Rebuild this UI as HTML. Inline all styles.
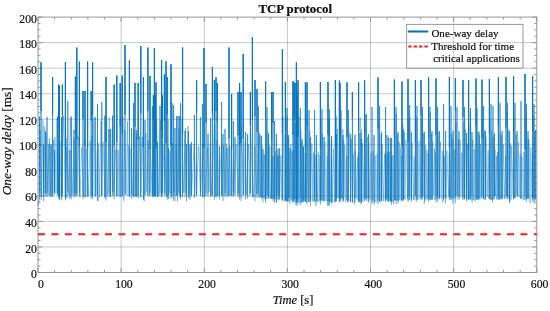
<!DOCTYPE html>
<html><head><meta charset="utf-8"><style>
html,body{margin:0;padding:0;background:#fff;width:550px;height:311px;overflow:hidden}
svg{display:block}
text{font-family:"Liberation Serif",serif;fill:#111;stroke:#111;stroke-width:0.2px}
</style></head><body>
<svg width="550" height="311" viewBox="0 0 550 311">
<g stroke="#000" stroke-opacity="0.22" stroke-width="1" fill="none"><line x1="121.1" y1="17.1" x2="121.1" y2="272.5"/><line x1="204.3" y1="17.1" x2="204.3" y2="272.5"/><line x1="287.4" y1="17.1" x2="287.4" y2="272.5"/><line x1="370.5" y1="17.1" x2="370.5" y2="272.5"/><line x1="453.7" y1="17.1" x2="453.7" y2="272.5"/><line x1="38.0" y1="246.96" x2="536.8" y2="246.96"/><line x1="38.0" y1="221.42" x2="536.8" y2="221.42"/><line x1="38.0" y1="195.88" x2="536.8" y2="195.88"/><line x1="38.0" y1="170.34" x2="536.8" y2="170.34"/><line x1="38.0" y1="144.80" x2="536.8" y2="144.80"/><line x1="38.0" y1="119.26" x2="536.8" y2="119.26"/><line x1="38.0" y1="93.72" x2="536.8" y2="93.72"/><line x1="38.0" y1="68.18" x2="536.8" y2="68.18"/><line x1="38.0" y1="42.64" x2="536.8" y2="42.64"/></g>
<g stroke="#969696" stroke-width="1" fill="none"><rect x="38.0" y="17.1" width="498.79999999999995" height="255.4"/><path d="M38.00,272.5v-4.5M38.00,17.1v4.5M54.63,272.5v-2.5M54.63,17.1v2.5M71.25,272.5v-2.5M71.25,17.1v2.5M87.88,272.5v-2.5M87.88,17.1v2.5M104.51,272.5v-2.5M104.51,17.1v2.5M121.13,272.5v-4.5M121.13,17.1v4.5M137.76,272.5v-2.5M137.76,17.1v2.5M154.39,272.5v-2.5M154.39,17.1v2.5M171.01,272.5v-2.5M171.01,17.1v2.5M187.64,272.5v-2.5M187.64,17.1v2.5M204.27,272.5v-4.5M204.27,17.1v4.5M220.89,272.5v-2.5M220.89,17.1v2.5M237.52,272.5v-2.5M237.52,17.1v2.5M254.15,272.5v-2.5M254.15,17.1v2.5M270.77,272.5v-2.5M270.77,17.1v2.5M287.40,272.5v-4.5M287.40,17.1v4.5M304.03,272.5v-2.5M304.03,17.1v2.5M320.65,272.5v-2.5M320.65,17.1v2.5M337.28,272.5v-2.5M337.28,17.1v2.5M353.91,272.5v-2.5M353.91,17.1v2.5M370.53,272.5v-4.5M370.53,17.1v4.5M387.16,272.5v-2.5M387.16,17.1v2.5M403.79,272.5v-2.5M403.79,17.1v2.5M420.41,272.5v-2.5M420.41,17.1v2.5M437.04,272.5v-2.5M437.04,17.1v2.5M453.67,272.5v-4.5M453.67,17.1v4.5M470.29,272.5v-2.5M470.29,17.1v2.5M486.92,272.5v-2.5M486.92,17.1v2.5M503.55,272.5v-2.5M503.55,17.1v2.5M520.17,272.5v-2.5M520.17,17.1v2.5M536.80,272.5v-4.5M536.80,17.1v4.5M38.0,272.50h4.5M536.8,272.50h-4.5M38.0,266.12h2.5M536.8,266.12h-2.5M38.0,259.73h2.5M536.8,259.73h-2.5M38.0,253.34h2.5M536.8,253.34h-2.5M38.0,246.96h4.5M536.8,246.96h-4.5M38.0,240.57h2.5M536.8,240.57h-2.5M38.0,234.19h2.5M536.8,234.19h-2.5M38.0,227.81h2.5M536.8,227.81h-2.5M38.0,221.42h4.5M536.8,221.42h-4.5M38.0,215.03h2.5M536.8,215.03h-2.5M38.0,208.65h2.5M536.8,208.65h-2.5M38.0,202.26h2.5M536.8,202.26h-2.5M38.0,195.88h4.5M536.8,195.88h-4.5M38.0,189.50h2.5M536.8,189.50h-2.5M38.0,183.11h2.5M536.8,183.11h-2.5M38.0,176.72h2.5M536.8,176.72h-2.5M38.0,170.34h4.5M536.8,170.34h-4.5M38.0,163.95h2.5M536.8,163.95h-2.5M38.0,157.57h2.5M536.8,157.57h-2.5M38.0,151.19h2.5M536.8,151.19h-2.5M38.0,144.80h4.5M536.8,144.80h-4.5M38.0,138.41h2.5M536.8,138.41h-2.5M38.0,132.03h2.5M536.8,132.03h-2.5M38.0,125.65h2.5M536.8,125.65h-2.5M38.0,119.26h4.5M536.8,119.26h-4.5M38.0,112.88h2.5M536.8,112.88h-2.5M38.0,106.49h2.5M536.8,106.49h-2.5M38.0,100.10h2.5M536.8,100.10h-2.5M38.0,93.72h4.5M536.8,93.72h-4.5M38.0,87.34h2.5M536.8,87.34h-2.5M38.0,80.95h2.5M536.8,80.95h-2.5M38.0,74.56h2.5M536.8,74.56h-2.5M38.0,68.18h4.5M536.8,68.18h-4.5M38.0,61.79h2.5M536.8,61.79h-2.5M38.0,55.41h2.5M536.8,55.41h-2.5M38.0,49.03h2.5M536.8,49.03h-2.5M38.0,42.64h4.5M536.8,42.64h-4.5M38.0,36.25h2.5M536.8,36.25h-2.5M38.0,29.87h2.5M536.8,29.87h-2.5M38.0,23.49h2.5M536.8,23.49h-2.5M38.0,17.10h4.5M536.8,17.10h-4.5"/></g>
<path d="M39.84,196.1L40.14,129.8L41.76,197.0L42.90,120.1L43.74,201.2L44.19,126.3L45.19,193.9L46.02,133.0L47.16,192.8L49.36,138.5L50.32,195.8L50.99,145.8L51.87,196.5L53.55,139.5L54.37,193.1L54.96,136.9L56.03,192.9L56.96,118.1L57.97,195.9L60.01,140.9L61.14,196.5L63.56,115.7L65.33,197.4L66.81,147.9L68.93,195.3L70.26,117.7L72.77,195.7L73.93,138.1L74.67,195.9L75.93,130.3L76.88,196.2L78.06,136.7L80.03,197.1L81.57,147.7L83.44,196.1L84.96,139.5L85.88,196.7L86.61,148.9L88.36,195.9L90.13,140.8L91.17,195.6L91.90,136.4L92.69,195.7L93.87,117.8L95.99,195.6L97.25,149.7L98.06,200.8L98.72,143.2L99.68,197.3L101.00,121.1L101.70,195.8L102.98,142.1L105.05,198.5L106.42,117.5L107.38,196.0L109.20,117.5L110.51,196.6L112.25,127.3L113.85,196.2L115.70,149.3L116.93,196.0L118.21,149.9L118.96,196.1L120.24,118.6L122.04,196.2L122.99,117.1L123.74,200.9L124.73,129.9L126.05,194.8L127.51,121.3L128.04,195.8L128.86,145.5L129.92,196.5L130.90,148.6L132.65,195.9L134.39,128.8L135.90,196.6L136.79,133.7L137.94,195.9L139.65,136.3L140.63,197.2L142.30,137.1L144.20,201.2L145.90,133.2L146.74,192.3L148.23,140.5L149.37,195.7L150.07,147.4L152.31,195.5L153.57,144.7L155.44,195.6L156.62,118.7L158.41,196.2L160.34,120.0L161.92,196.4L164.09,144.2L166.91,197.2L168.12,118.8L169.21,193.2L169.99,150.8L171.32,196.6L172.49,143.3L174.03,192.6L176.13,143.9L177.43,201.2L179.03,128.2L180.50,196.2L181.95,118.9L183.23,192.8L185.52,128.5L186.50,196.1L187.93,126.1L189.44,194.0L190.22,146.3L191.62,193.7L194.21,144.2L196.19,195.9L198.66,146.6L200.57,192.6L203.17,143.5L204.71,197.2L207.79,147.5L209.07,192.3L210.21,143.7L211.70,195.2L214.56,124.2L215.80,196.1L217.16,139.8L218.96,195.7L221.51,144.8L222.16,195.7L223.61,145.4L225.05,193.5L226.43,143.5L228.40,196.0L229.50,146.0L230.42,195.6L231.18,147.9L233.14,196.5L236.14,144.4L238.12,196.0L240.97,125.6L243.72,194.6L245.12,140.5L246.25,194.7L248.52,144.2L249.76,196.4L250.41,127.8L253.40,197.5L254.78,146.2L256.63,194.6L259.46,132.9L260.42,196.0L261.83,145.3L262.76,198.3L264.16,154.0L264.57,198.5L265.02,155.2L265.66,202.8L266.14,119.1L267.08,194.6L268.08,131.7L269.00,197.6L269.60,145.6L270.48,198.8L271.45,146.4L271.88,198.7L272.71,156.0L273.69,199.0L274.34,155.5L275.23,198.8L275.76,151.4L276.47,202.9L277.48,155.7L278.22,200.3L278.60,155.5L279.46,198.4L280.97,155.6L281.96,199.5L283.18,117.1L284.11,201.1L285.06,134.0L285.63,201.2L285.97,118.9L286.50,201.3L287.25,115.7L287.75,201.2L288.79,137.3L289.59,197.8L290.92,144.0L291.33,199.6L291.84,150.9L292.37,201.4L292.89,150.5L293.94,199.0L295.34,123.0L295.87,205.3L296.32,115.5L296.90,202.6L297.68,114.2L298.18,201.4L299.10,116.5L299.72,202.5L300.91,130.5L301.62,202.7L302.06,141.3L302.61,202.0L303.10,147.9L304.41,201.3L305.13,152.7L305.50,201.9L306.09,118.2L306.74,202.4L307.55,121.2L308.78,202.1L309.69,130.7L310.51,201.0L311.86,143.4L312.88,201.3L313.41,152.6L314.03,201.6L315.07,154.9L315.96,206.1L316.60,154.9L317.36,202.2L318.21,151.7L319.14,201.3L319.93,154.9L320.39,204.3L320.88,120.0L321.86,200.2L322.43,134.2L323.96,201.8L324.82,141.6L326.07,201.3L327.15,155.5L327.92,206.0L328.42,120.2L328.86,201.3L329.46,117.7L330.62,201.9L331.40,140.2L332.32,202.3L333.55,148.7L334.33,202.6L335.61,120.9L336.00,197.7L336.61,116.1L337.19,198.2L337.45,129.0L338.88,198.2L339.58,117.3L339.99,201.7L340.56,117.7L341.69,198.5L342.87,129.3L343.37,200.4L343.74,139.9L344.09,197.5L344.77,144.9L345.94,202.2L346.73,155.9L347.58,202.6L349.15,132.1L350.54,202.3L351.31,139.3L352.55,202.5L353.43,153.6L354.38,204.4L355.45,150.7L356.09,198.7L357.53,156.5L357.92,200.2L358.47,152.3L359.25,201.9L360.24,117.8L361.08,204.3L361.48,129.3L361.89,202.0L362.73,143.3L363.90,200.7L364.82,119.8L365.77,198.6L366.26,114.8L366.92,201.3L367.68,136.9L368.08,198.3L368.65,142.5L369.84,199.4L371.11,152.9L372.20,201.9L373.19,151.1L374.45,202.3L375.17,155.3L376.00,202.6L377.13,153.6L377.97,203.8L378.77,121.5L380.17,202.1L381.10,135.0L381.60,200.9L382.09,144.2L383.36,201.1L384.45,153.6L385.31,202.0L386.02,155.0L386.53,198.3L387.17,151.9L387.95,201.5L388.33,154.1L389.14,201.5L389.69,151.6L390.89,201.0L391.68,156.7L392.07,201.9L393.00,154.9L393.48,204.0L394.52,123.0L395.22,200.4L396.33,113.9L396.97,200.5L397.53,134.2L398.58,200.7L399.16,141.7L399.79,199.8L400.28,146.5L401.21,200.4L401.65,155.4L402.18,199.8L402.72,123.9L403.26,200.8L404.36,132.2L404.90,199.6L405.97,139.8L407.51,199.1L408.17,120.9L408.80,200.3L409.81,117.0L411.21,199.3L412.07,141.8L413.33,199.9L414.12,156.7L414.79,200.1L415.74,118.6L416.39,201.6L416.96,117.0L418.06,200.0L418.92,140.7L420.18,198.5L421.18,118.7L421.76,200.0L422.33,113.8L423.08,196.5L423.47,132.9L425.04,201.2L425.74,145.3L426.20,198.9L426.99,150.1L427.78,199.8L428.35,153.0L429.00,199.8L430.40,112.6L430.97,199.8L431.39,133.8L432.11,199.3L432.71,141.5L433.32,195.2L434.51,148.7L434.87,199.9L435.35,152.3L436.25,199.1L436.91,120.4L437.51,201.6L438.09,132.1L438.98,199.3L440.52,141.7L441.09,198.4L442.26,150.8L442.85,202.4L443.55,154.7L443.92,198.9L444.57,156.2L446.06,198.9L446.92,150.7L448.45,196.5L449.32,152.6L450.50,199.6L451.44,133.3L451.87,200.1L452.77,138.7L454.00,197.6L454.69,149.6L455.21,198.6L455.97,122.3L457.57,195.9L458.40,138.7L459.40,196.4L460.13,139.8L461.04,196.4L461.79,152.5L462.91,198.8L463.82,121.7L464.47,199.4L465.60,129.3L466.54,198.6L467.50,143.4L468.07,198.6L468.64,123.2L469.56,199.0L470.56,112.9L472.02,200.1L472.95,140.0L473.49,200.1L474.33,149.0L474.94,201.2L476.16,120.9L477.47,199.1L478.08,131.2L478.54,200.2L479.43,135.2L479.98,199.3L480.38,144.0L481.27,197.1L482.47,120.8L483.21,197.9L484.53,130.5L484.94,199.9L485.81,136.7L487.24,196.6L488.10,150.3L488.96,198.8L489.77,118.7L490.84,199.9L491.89,130.5L492.50,202.2L493.28,136.8L494.41,196.1L495.01,149.4L495.51,196.1L496.43,155.9L496.78,199.4L497.45,151.9L497.91,199.9L498.45,117.8L499.33,199.7L500.58,133.1L501.20,199.3L501.73,135.3L502.64,198.7L503.25,144.2L504.48,199.1L505.45,155.2L506.64,196.3L507.27,113.0L508.06,198.6L508.76,129.4L509.74,202.6L510.48,143.0L511.04,199.9L511.65,145.8L513.13,195.3L513.78,117.2L514.84,198.3L515.95,134.2L517.51,197.2L518.37,141.7L519.11,197.1L520.12,154.1L520.91,198.9L522.01,156.8L523.21,200.1L523.99,152.1L525.01,199.7L526.26,115.4L527.34,198.6L528.09,139.1L528.60,198.9L528.93,139.4L530.03,203.4L530.87,147.4L531.99,198.4L532.57,153.2L533.24,198.5L533.73,115.7L534.22,197.3L534.62,131.5L534.92,201.8" fill="none" stroke="#0072BD" stroke-width="0.38"/>
<path d="M39.44,197.3L39.50,116.5L39.56,192.9M40.94,194.6L41.00,62.4L41.06,199.9M43.54,196.9L43.60,145.0L43.66,192.7M45.34,197.0L45.40,131.0L45.46,192.9M46.94,197.0L47.00,117.0L47.06,195.7M48.94,194.8L49.00,144.0L49.06,196.9M50.94,196.1L51.00,144.0L51.06,197.0M52.54,196.9L52.60,77.0L52.66,194.2M54.34,195.3L54.40,150.0L54.46,193.0M57.44,194.7L57.50,116.5L57.56,194.1M58.54,198.8L58.60,84.6L58.66,195.6M59.34,196.9L59.40,85.6L59.46,199.5M59.44,195.9L59.50,110.0L59.56,199.7M61.44,194.9L61.50,117.0L61.56,200.5M62.34,197.4L62.40,84.6L62.46,194.6M65.34,196.2L65.40,62.0L65.46,200.3M65.94,198.4L66.00,138.0L66.06,198.8M67.74,197.3L67.80,101.0L67.86,192.4M69.94,197.4L70.00,150.0L70.06,199.2M71.24,199.2L71.30,116.5L71.36,195.7M73.94,197.4L74.00,130.0L74.06,193.1M75.34,197.3L75.40,76.6L75.46,194.1M76.74,196.0L76.80,47.6L76.86,193.1M79.34,196.5L79.40,61.6L79.46,193.2M82.94,196.9L83.00,91.0L83.06,199.0M84.94,197.2L85.00,91.0L85.06,197.3M87.54,195.6L87.60,61.6L87.66,197.4M91.14,198.5L91.20,91.0L91.26,196.0M92.54,196.7L92.60,62.6L92.66,199.0M95.14,196.3L95.20,117.0L95.26,196.7M97.44,194.8L97.50,104.0L97.56,200.8M101.74,195.9L101.80,102.0L101.86,195.7M104.74,196.7L104.80,115.5L104.86,197.0M105.94,196.4L106.00,77.0L106.06,200.8M108.94,193.7L109.00,129.0L109.06,197.0M110.34,195.6L110.40,129.0L110.46,197.0M112.44,195.9L112.50,115.5L112.56,192.3M114.14,199.0L114.20,84.6L114.26,192.5M116.74,196.7L116.80,75.6L116.86,196.6M120.14,197.4L120.20,83.0L120.26,197.0M122.14,196.1L122.20,75.6L122.26,195.9M124.94,193.7L125.00,45.0L125.06,195.6M129.34,196.2L129.40,60.4L129.46,197.0M131.54,194.1L131.60,128.0L131.66,198.8M133.44,197.5L133.50,103.0L133.56,196.2M134.94,196.6L135.00,83.0L135.06,196.2M136.34,197.3L136.40,130.0L136.46,196.1M138.14,198.7L138.20,83.0L138.26,196.6M140.74,193.0L140.80,46.0L140.86,197.5M143.34,198.9L143.40,77.0L143.46,199.6M144.94,195.7L145.00,120.0L145.06,194.6M147.84,195.2L147.90,47.6L147.96,196.8M149.94,196.0L150.00,76.0L150.06,193.0M152.34,196.6L152.40,106.0L152.46,194.8M153.34,197.3L153.40,95.0L153.46,196.8M154.34,196.3L154.40,48.0L154.46,195.8M154.94,196.6L155.00,95.0L155.06,196.2M155.94,197.4L156.00,82.4L156.06,194.4M157.54,197.2L157.60,142.0L157.66,196.7M159.94,196.5L160.00,106.0L160.06,193.2M161.54,196.2L161.60,60.0L161.66,197.3M162.34,192.5L162.40,95.0L162.46,194.2M164.34,192.5L164.40,74.4L164.46,196.1M165.94,194.5L166.00,61.4L166.06,195.7M167.14,199.9L167.20,77.0L167.26,197.2M168.54,199.1L168.60,148.0L168.66,195.6M170.94,193.7L171.00,64.4L171.06,199.0M171.94,195.9L172.00,103.0L172.06,196.8M173.54,200.6L173.60,105.0L173.66,194.7M174.94,201.2L175.00,128.0L175.06,196.3M176.54,196.1L176.60,116.0L176.66,194.9M177.94,195.7L178.00,116.0L178.06,192.5M179.34,194.2L179.40,116.0L179.46,196.5M180.54,199.3L180.60,103.0L180.66,197.1M182.54,196.4L182.60,47.6L182.66,197.2M184.94,197.2L185.00,131.0L185.06,192.4M186.34,194.7L186.40,144.0L186.46,201.2M188.34,198.3L188.40,131.0L188.46,197.1M189.94,197.0L190.00,144.0L190.06,199.9M191.34,196.1L191.40,142.0L191.46,196.2M194.34,197.5L194.40,115.0L194.46,197.2M196.54,196.0L196.60,80.0L196.66,193.8M200.34,196.1L200.40,117.0L200.46,196.4M202.34,197.5L202.40,104.0L202.46,196.4M203.94,197.2L204.00,48.0L204.06,195.6M205.94,196.2L206.00,84.0L206.06,193.7M207.94,196.9L208.00,134.0L208.06,194.4M210.54,196.8L210.60,118.0L210.66,196.7M212.34,196.7L212.40,67.0L212.46,195.1M214.34,199.9L214.40,80.0L214.46,196.6M215.94,197.3L216.00,77.4L216.06,196.9M217.34,196.5L217.40,83.0L217.46,196.1M219.34,195.7L219.40,146.0L219.46,199.4M221.54,194.5L221.60,102.0L221.66,196.5M222.94,196.4L223.00,134.0L223.06,201.2M224.94,197.0L225.00,129.0L225.06,195.6M226.94,197.3L227.00,148.0L227.06,196.2M228.94,195.9L229.00,47.6L229.06,195.7M231.54,196.5L231.60,94.0L231.66,195.7M233.34,196.6L233.40,121.0L233.46,192.4M234.94,194.4L235.00,137.0L235.06,195.8M237.94,193.0L238.00,92.0L238.06,197.2M239.54,199.6L239.60,83.0L239.66,194.7M240.94,197.4L241.00,92.0L241.06,201.0M243.14,195.2L243.20,54.0L243.26,196.3M245.54,199.5L245.60,132.0L245.66,195.9M247.54,196.2L247.60,134.0L247.66,199.0M250.34,193.3L250.40,92.0L250.46,193.3M252.34,196.6L252.40,37.0L252.46,197.0M254.94,201.3L255.00,80.0L255.06,197.1M256.94,197.7L257.00,89.0L257.06,193.7M258.34,197.5L258.40,106.0L258.46,194.2M259.94,197.0L260.00,135.0L260.06,198.5M261.54,197.8L261.60,136.0L261.66,198.1M262.94,202.2L263.00,149.0L263.06,197.7M265.54,199.4L265.60,81.4L265.66,198.9M266.94,199.1L267.00,107.0L267.06,196.0M268.54,199.0L268.60,134.0L268.66,198.0M271.54,198.5L271.60,92.0L271.66,198.6M272.94,201.3L273.00,92.0L273.06,198.8M274.54,203.0L274.60,121.0L274.66,200.3M276.34,202.4L276.40,134.0L276.46,195.8M277.94,199.9L278.00,149.0L278.06,195.9M279.54,199.6L279.60,148.0L279.66,196.0M282.34,199.7L282.40,49.0L282.46,201.1M285.34,200.6L285.40,82.0L285.46,200.3M286.94,200.9L287.00,108.0L287.06,201.6M288.34,201.9L288.40,135.0L288.46,198.5M289.94,204.0L290.00,148.0L290.06,201.1M292.94,202.4L293.00,81.0L293.06,201.4M293.94,202.5L294.00,82.4L294.06,200.0M294.94,202.2L295.00,83.0L295.06,198.9M296.34,200.1L296.40,62.4L296.46,202.5M296.94,205.9L297.00,92.0L297.06,201.6M297.94,198.4L298.00,80.4L298.06,204.3M300.34,205.1L300.40,108.0L300.46,197.6M301.94,202.3L302.00,139.0L302.06,202.0M303.54,202.3L303.60,146.0L303.66,199.8M305.34,198.8L305.40,82.4L305.46,201.9M306.94,204.5L307.00,82.4L307.06,198.8M308.94,202.0L309.00,110.0L309.06,201.7M310.54,205.9L310.60,137.0L310.66,200.9M314.54,201.6L314.60,110.0L314.66,197.5M316.34,200.9L316.40,135.0L316.46,201.7M320.34,200.7L320.40,82.0L320.46,200.7M321.94,200.8L322.00,109.0L322.06,201.3M323.94,200.1L324.00,137.0L324.06,200.9M327.94,201.1L328.00,82.0L328.06,205.7M329.34,202.0L329.40,109.0L329.46,205.5M331.54,203.7L331.60,136.0L331.66,202.6M335.34,201.5L335.40,80.0L335.46,201.9M336.34,201.2L336.40,134.0L336.46,201.2M339.34,202.6L339.40,80.6L339.46,201.1M339.94,198.7L340.00,83.0L340.06,201.2M340.94,199.0L341.00,110.0L341.06,197.8M342.94,200.8L343.00,135.0L343.06,202.2M346.94,199.8L347.00,82.4L347.06,199.9M348.34,200.9L348.40,110.0L348.46,201.7M350.54,201.1L350.60,134.0L350.66,202.0M352.34,197.8L352.40,92.0L352.46,202.1M354.94,202.5L355.00,135.0L355.06,198.7M358.54,202.5L358.60,82.4L358.66,201.0M359.94,201.3L360.00,133.0L360.06,202.6M361.54,201.3L361.60,139.0L361.66,202.7M364.54,201.2L364.60,80.0L364.66,197.7M365.94,199.6L366.00,114.0L366.06,198.9M368.54,201.3L368.60,134.0L368.66,202.6M371.94,204.3L372.00,107.0L372.06,200.0M373.94,201.8L374.00,135.0L374.06,204.8M377.94,199.6L378.00,77.6L378.06,201.1M379.54,200.9L379.60,106.0L379.66,201.5M381.54,201.2L381.60,132.0L381.66,198.8M385.54,200.0L385.60,107.0L385.66,200.2M386.94,201.4L387.00,135.0L387.06,199.0M388.54,201.7L388.60,137.0L388.66,200.0M390.34,201.7L390.40,138.0L390.46,201.4M391.54,204.9L391.60,138.0L391.66,201.5M394.34,200.5L394.40,79.6L394.46,200.4M395.94,200.5L396.00,107.0L396.06,204.4M397.94,201.7L398.00,132.0L398.06,203.6M401.94,200.7L402.00,81.6L402.06,201.2M403.54,199.2L403.60,129.0L403.66,199.2M407.94,196.3L408.00,79.0L408.06,201.9M409.54,200.1L409.60,105.0L409.66,195.9M411.34,199.6L411.40,132.0L411.46,201.6M415.34,196.2L415.40,80.0L415.46,195.5M416.94,198.5L417.00,106.0L417.06,199.8M420.94,197.5L421.00,80.0L421.06,199.1M422.34,198.8L422.40,107.0L422.46,195.7M424.34,203.8L424.40,132.0L424.46,199.4M428.54,198.6L428.60,77.4L428.66,202.1M429.94,199.5L430.00,107.0L430.06,199.5M431.94,199.2L432.00,131.0L432.06,199.9M435.94,195.5L436.00,78.4L436.06,202.5M437.54,197.2L437.60,107.0L437.66,196.3M439.34,197.4L439.40,131.0L439.46,199.1M443.54,199.8L443.60,104.0L443.66,198.2M445.54,203.4L445.60,131.0L445.66,197.1M449.34,199.9L449.40,77.2L449.46,198.9M450.94,196.4L451.00,106.0L451.06,198.0M452.94,203.6L453.00,131.0L453.06,198.7M455.34,203.3L455.40,78.0L455.46,195.0M456.94,195.4L457.00,107.0L457.06,199.4M458.94,198.3L459.00,131.0L459.06,199.9M462.94,200.2L463.00,80.0L463.06,197.1M464.54,198.4L464.60,107.0L464.66,199.0M466.54,199.9L466.60,133.0L466.66,201.8M468.54,200.0L468.60,80.0L468.66,200.1M470.34,199.7L470.40,108.0L470.46,198.9M471.94,195.4L472.00,132.0L472.06,202.9M475.94,199.1L476.00,78.6L476.06,200.0M476.94,198.5L477.00,108.0L477.06,199.9M478.94,198.6L479.00,132.0L479.06,198.6M481.94,198.9L482.00,79.6L482.06,195.3M483.54,199.1L483.60,106.0L483.66,199.2M485.54,199.7L485.60,131.0L485.66,197.4M489.34,198.6L489.40,79.0L489.46,199.2M490.94,199.5L491.00,104.0L491.06,200.2M492.94,199.5L493.00,106.0L493.06,199.9M494.34,199.4L494.40,133.0L494.46,196.1M498.34,195.2L498.40,77.0L498.46,199.1M499.94,198.5L500.00,103.0L500.06,199.7M501.94,198.2L502.00,131.0L502.06,199.2M505.94,199.4L506.00,77.0L506.06,195.6M507.34,198.4L507.40,103.0L507.46,198.3M509.34,202.6L509.40,131.0L509.46,199.4M513.54,199.4L513.60,76.4L513.66,198.8M514.94,198.2L515.00,103.0L515.06,197.3M516.94,195.7L517.00,131.0L517.06,195.1M520.94,198.6L521.00,101.0L521.06,199.0M524.94,199.3L525.00,74.0L525.06,195.5M526.34,202.1L526.40,104.0L526.46,199.2M527.94,198.8L528.00,131.0L528.06,198.3M532.54,198.9L532.60,76.0L532.66,201.5M533.94,203.3L534.00,104.0L534.06,199.9M535.54,199.6L535.60,130.0L535.66,199.1M38.2,205.5L39.6,197" fill="none" stroke="#0072BD" stroke-width="0.6"/>
<path d="M40.97,111.0L41.00,62.4L41.03,111.0M52.57,113.6L52.60,77.0L52.63,113.6M58.57,120.0L58.60,84.6L58.63,120.0M59.37,128.4L59.40,85.6L59.43,128.4M62.37,114.8L62.40,84.6L62.43,114.8M65.37,148.8L65.40,62.0L65.43,148.8M75.37,133.1L75.40,76.6L75.43,133.1M76.77,139.6L76.80,47.6L76.83,139.6M79.37,145.7L79.40,61.6L79.43,145.7M82.97,119.0L83.00,91.0L83.03,119.0M84.97,145.4L85.00,91.0L85.03,145.4M87.57,148.3L87.60,61.6L87.63,148.3M91.17,120.7L91.20,91.0L91.23,120.7M92.57,115.0L92.60,62.6L92.63,115.0M105.97,142.0L106.00,77.0L106.03,142.0M114.17,145.6L114.20,84.6L114.23,145.6M116.77,141.9L116.80,75.6L116.83,141.9M120.17,126.3L120.20,83.0L120.23,126.3M122.17,134.1L122.20,75.6L122.23,134.1M124.97,114.6L125.00,45.0L125.03,114.6M129.37,119.4L129.40,60.4L129.43,119.4M134.97,126.8L135.00,83.0L135.03,126.8M138.17,139.8L138.20,83.0L138.23,139.8M140.77,113.6L140.80,46.0L140.83,113.6M143.37,147.1L143.40,77.0L143.43,147.1M147.87,111.2L147.90,47.6L147.93,111.2M149.97,148.8L150.00,76.0L150.03,148.8M153.37,119.5L153.40,95.0L153.43,119.5M154.37,142.8L154.40,48.0L154.43,142.8M154.97,142.7L155.00,95.0L155.03,142.7M155.97,148.2L156.00,82.4L156.03,148.2M161.57,128.8L161.60,60.0L161.63,128.8M162.37,138.0L162.40,95.0L162.43,138.0M164.37,121.7L164.40,74.4L164.43,121.7M165.97,143.3L166.00,61.4L166.03,143.3M167.17,114.4L167.20,77.0L167.23,114.4M170.97,145.3L171.00,64.4L171.03,145.3M182.57,133.7L182.60,47.6L182.63,133.7M196.57,112.5L196.60,80.0L196.63,112.5M203.97,147.7L204.00,48.0L204.03,147.7M205.97,122.6L206.00,84.0L206.03,122.6M212.37,112.7L212.40,67.0L212.43,112.7M214.37,120.4L214.40,80.0L214.43,120.4M215.97,111.1L216.00,77.4L216.03,111.1M217.37,121.3L217.40,83.0L217.43,121.3M228.97,138.4L229.00,47.6L229.03,138.4M231.57,149.5L231.60,94.0L231.63,149.5M237.97,135.3L238.00,92.0L238.03,135.3M239.57,144.2L239.60,83.0L239.63,144.2M240.97,142.9L241.00,92.0L241.03,142.9M243.17,138.6L243.20,54.0L243.23,138.6M250.37,125.4L250.40,92.0L250.43,125.4M252.37,120.1L252.40,37.0L252.43,120.1M254.97,116.2L255.00,80.0L255.03,116.2M256.97,131.9L257.00,89.0L257.03,131.9M265.57,118.2L265.60,81.4L265.63,118.2M271.57,139.6L271.60,92.0L271.63,139.6M272.97,122.8L273.00,92.0L273.03,122.8M282.37,133.2L282.40,49.0L282.43,133.2M285.37,131.9L285.40,82.0L285.43,131.9M292.97,135.1L293.00,81.0L293.03,135.1M293.97,116.2L294.00,82.4L294.03,116.2M294.97,120.3L295.00,83.0L295.03,120.3M296.37,137.5L296.40,62.4L296.43,137.5M296.97,118.5L297.00,92.0L297.03,118.5M297.97,136.9L298.00,80.4L298.03,136.9M305.37,148.6L305.40,82.4L305.43,148.6M306.97,125.6L307.00,82.4L307.03,125.6M320.37,148.5L320.40,82.0L320.43,148.5M327.97,134.6L328.00,82.0L328.03,134.6M335.37,147.8L335.40,80.0L335.43,147.8M339.37,131.0L339.40,80.6L339.43,131.0M339.97,140.1L340.00,83.0L340.03,140.1M346.97,137.3L347.00,82.4L347.03,137.3M352.37,117.8L352.40,92.0L352.43,117.8M358.57,130.7L358.60,82.4L358.63,130.7M364.57,133.2L364.60,80.0L364.63,133.2M377.97,128.5L378.00,77.6L378.03,128.5M394.37,136.4L394.40,79.6L394.43,136.4M401.97,146.4L402.00,81.6L402.03,146.4M407.97,141.8L408.00,79.0L408.03,141.8M415.37,142.5L415.40,80.0L415.43,142.5M420.97,115.7L421.00,80.0L421.03,115.7M428.57,138.1L428.60,77.4L428.63,138.1M435.97,135.1L436.00,78.4L436.03,135.1M449.37,147.5L449.40,77.2L449.43,147.5M455.37,110.1L455.40,78.0L455.43,110.1M462.97,116.9L463.00,80.0L463.03,116.9M468.57,149.0L468.60,80.0L468.63,149.0M475.97,124.9L476.00,78.6L476.03,124.9M481.97,138.2L482.00,79.6L482.03,138.2M489.37,133.7L489.40,79.0L489.43,133.7M498.37,125.9L498.40,77.0L498.43,125.9M505.97,127.5L506.00,77.0L506.03,127.5M513.57,132.5L513.60,76.4L513.63,132.5M524.97,149.4L525.00,74.0L525.03,149.4M532.57,131.3L532.60,76.0L532.63,131.3" fill="none" stroke="#0072BD" stroke-width="0.7"/>
<line x1="38.0" y1="234.19" x2="536.8" y2="234.19" stroke="#ff1a1a" stroke-width="2" stroke-dasharray="7 6.4"/>
<g font-size="11.7" text-anchor="middle"><text x="40.8" y="287.7">0</text><text x="123.9" y="287.7">100</text><text x="207.1" y="287.7">200</text><text x="290.2" y="287.7">300</text><text x="373.3" y="287.7">400</text><text x="456.5" y="287.7">500</text><text x="539.6" y="287.7">600</text></g>
<g font-size="11.7" text-anchor="end"><text x="36.9" y="278.0">0</text><text x="36.9" y="252.5">20</text><text x="36.9" y="226.9">40</text><text x="36.9" y="201.4">60</text><text x="36.9" y="175.8">80</text><text x="36.9" y="150.3">100</text><text x="36.9" y="124.8">120</text><text x="36.9" y="99.2">140</text><text x="36.9" y="73.7">160</text><text x="36.9" y="48.1">180</text><text x="36.9" y="22.6">200</text></g>
<text x="295.2" y="12.9" font-size="12.8" font-weight="bold" text-anchor="middle" textLength="73.6" lengthAdjust="spacingAndGlyphs">TCP protocol</text>
<text x="293.1" y="303.8" font-size="13.3" text-anchor="middle" textLength="40.6" lengthAdjust="spacingAndGlyphs"><tspan font-style="italic">Time</tspan> [s]</text>
<text transform="translate(11.2,141.3) rotate(-90)" font-size="13" text-anchor="middle" textLength="108" lengthAdjust="spacingAndGlyphs"><tspan font-style="italic">One-way delay</tspan> [ms]</text>
<rect x="406.6" y="24.4" width="116.4" height="43.8" fill="none" stroke="#999" stroke-width="1"/>
<line x1="407.8" y1="31.5" x2="428.3" y2="31.5" stroke="#0072BD" stroke-width="2"/>
<line x1="408.2" y1="46.5" x2="428.3" y2="46.5" stroke="#ff1a1a" stroke-width="2" stroke-dasharray="3.4 2"/>
<g font-size="11">
<text x="431.4" y="36.9" textLength="67.2" lengthAdjust="spacingAndGlyphs">One-way delay</text>
<text x="431.3" y="50.2" textLength="82.8" lengthAdjust="spacingAndGlyphs">Threshold for time</text>
<text x="433.2" y="61.6" textLength="86.7" lengthAdjust="spacingAndGlyphs">critical applications</text>
</g>
</svg>
</body></html>
